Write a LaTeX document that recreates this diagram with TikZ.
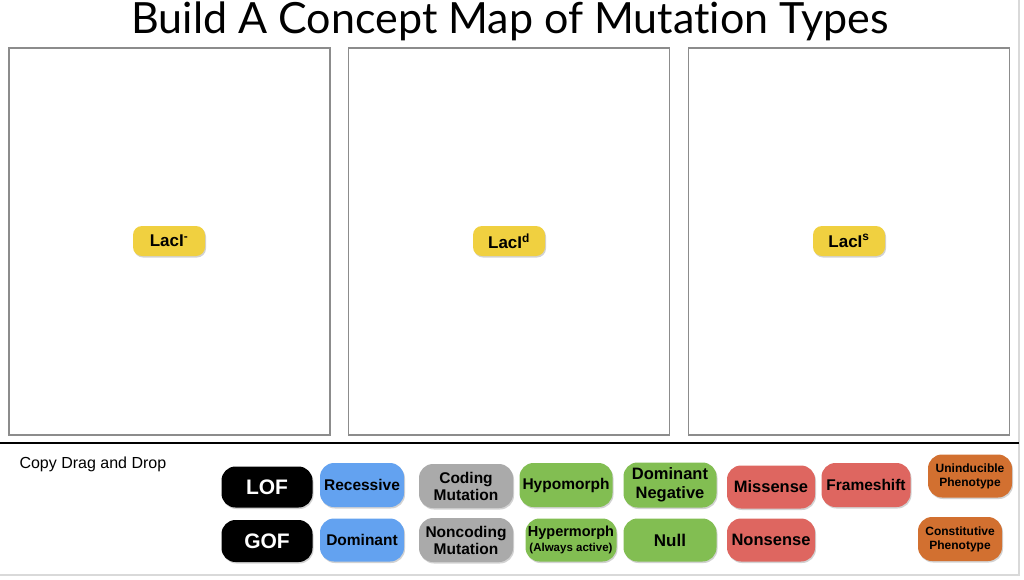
\documentclass[tikz,border=0pt]{standalone}
\usepackage{fontspec}
\setmainfont{Liberation Sans}
\newfontfamily\titlefont[Ligatures=NoCommon]{Lato}
\usetikzlibrary{shadows}
\definecolor{cblue}{RGB}{99,162,240}
\definecolor{cgray}{RGB}{170,170,170}
\definecolor{cgreen}{RGB}{130,190,82}
\definecolor{cred}{RGB}{222,102,96}
\definecolor{corange}{RGB}{210,112,48}
\definecolor{cyellow}{RGB}{240,208,64}
\tikzset{
 panel/.style={draw=black!45,line width=1.2pt,fill=white,minimum width=321pt,minimum height=387pt,inner sep=0pt},
 pill/.style={rounded corners=14pt,draw=none,font=\bfseries\fontsize{15.5}{17}\selectfont,align=center,inner sep=0pt,drop shadow={shadow xshift=1pt,shadow yshift=-1.5pt,opacity=0.35}},
 lac/.style={pill,fill=cyellow,minimum width=72pt,minimum height=30pt,rounded corners=9pt,font=\bfseries\fontsize{17}{18}\selectfont}
}
\begin{document}
\begin{tikzpicture}[x=1pt,y=-1pt]
\useasboundingbox (0,0) rectangle (1024,579);
\fill[white] (0,0) rectangle (1024,579);
\draw[black!15,line width=1.5pt] (1019,0) -- (1019,575) -- (0,575);
\node[font=\titlefont\fontsize{43}{46}\selectfont] (title) at (510,21) {Build A Concept Map of Mutation Types};
\node[panel] (p1) at (169.5,241.5) {};
\node[panel] (p2) at (509,241.5) {};
\node[panel] (p3) at (849,241.5) {};
\node[lac] (l1) at (169,241) {LacI\textsuperscript{-}};
\node[lac] (l2) at (509,241) {LacI\textsuperscript{d}};
\node[lac] (l3) at (849,241) {LacI\textsuperscript{s}};
\coordinate (sepA) at (0,443); \coordinate (sepB) at (1019,443);
\draw[line width=2.5pt] (sepA) -- (sepB);
\node[font=\fontsize{16}{18}\selectfont,anchor=west] (copy) at (16,464) {Copy Drag and Drop};
\node[pill,fill=black,text=white,minimum width=91pt,minimum height=41pt,font=\bfseries\fontsize{21}{22}\selectfont] (lof) at (267,487) {LOF};
\node[pill,fill=black,text=white,minimum width=91pt,minimum height=42pt,font=\bfseries\fontsize{21}{22}\selectfont] (gof) at (267,541) {GOF};
\node[pill,fill=cblue,minimum width=84pt,minimum height=44pt] (rec) at (362,485) {Recessive};
\node[pill,fill=cblue,minimum width=84pt,minimum height=43pt] (dom) at (362,540) {Dominant};
\node[pill,fill=cgray,minimum width=94pt,minimum height=44pt] (cod) at (466,486) {Coding\\Mutation};
\node[pill,fill=cgray,minimum width=94pt,minimum height=44pt] (nonc) at (466,540) {Noncoding\\Mutation};
\node[pill,fill=cgreen,minimum width=93pt,minimum height=44pt] (hypo) at (566,485) {Hypomorph};
\node[pill,fill=cgreen,minimum width=91pt,minimum height=43pt,font=\bfseries\fontsize{14.5}{16}\selectfont] (hyper) at (571,540) {Hypermorph\\[-1pt]{\fontsize{11.5}{13}\selectfont(Always active)}};
\node[pill,fill=cgreen,minimum width=93pt,minimum height=45pt,font=\bfseries\fontsize{16.5}{19}\selectfont] (dn) at (670,485) {Dominant\\Negative};
\node[pill,fill=cgreen,minimum width=93pt,minimum height=43pt,font=\bfseries\fontsize{17}{18}\selectfont] (null) at (670,540) {Null};
\node[pill,fill=cred,minimum width=88pt,minimum height=43pt,font=\bfseries\fontsize{16.5}{18}\selectfont] (mis) at (771,487) {Missense};
\node[pill,fill=cred,minimum width=89pt,minimum height=44pt] (fs) at (866,485) {Frameshift};
\node[pill,fill=cred,minimum width=88pt,minimum height=43pt,font=\bfseries\fontsize{16.5}{18}\selectfont] (non) at (771,540) {Nonsense};
\node[pill,fill=corange,minimum width=84pt,minimum height=43pt,font=\bfseries\fontsize{12}{14}\selectfont] (uni) at (970,476) {Uninducible\\Phenotype};
\node[pill,fill=corange,minimum width=84pt,minimum height=44pt,font=\bfseries\fontsize{12}{14}\selectfont] (con) at (960,539) {Constitutive\\Phenotype};
\end{tikzpicture}
\end{document}
